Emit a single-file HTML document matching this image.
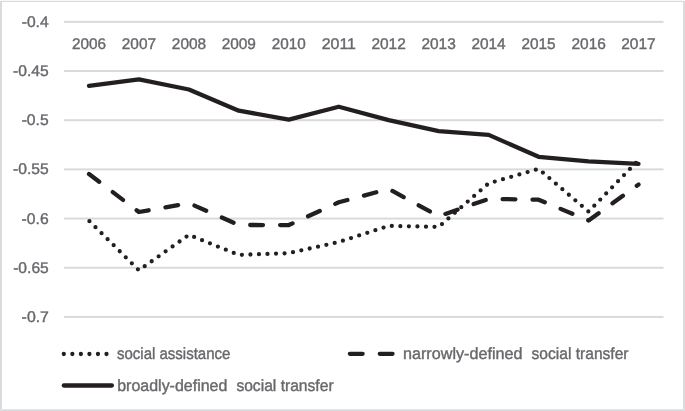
<!DOCTYPE html>
<html><head><meta charset="utf-8"><title>chart</title>
<style>
html,body{margin:0;padding:0;background:#fff;}
body{width:685px;height:411px;overflow:hidden;}
svg{display:block;}
text{font-family:"Liberation Sans",Arial,sans-serif;text-rendering:geometricPrecision;fill:#67686c;stroke:#67686c;stroke-width:0.4px;}
</style></head><body>
<svg width="685" height="411" viewBox="0 0 685 411">
<rect x="0" y="0" width="685" height="411" fill="#fff"/>
<rect x="0" y="0" width="685" height="1" fill="#f7f7f7"/>
<rect x="0" y="1" width="685" height="1" fill="#dadbdd"/>
<rect x="0" y="1" width="2" height="410" fill="#dadbdd"/>
<rect x="683" y="1" width="2" height="410" fill="#dadbdd"/>
<rect x="0" y="409" width="685" height="1" fill="#e3e4e6"/>
<rect x="0" y="410" width="685" height="1" fill="#dadbdd"/>
<rect x="64" y="20.85" width="599.5" height="2" fill="#d9dadc"/>
<rect x="64" y="70.03" width="599.5" height="2" fill="#d9dadc"/>
<rect x="64" y="119.21" width="599.5" height="2" fill="#d9dadc"/>
<rect x="64" y="168.39" width="599.5" height="2" fill="#d9dadc"/>
<rect x="64" y="217.57" width="599.5" height="2" fill="#d9dadc"/>
<rect x="64" y="266.75" width="599.5" height="2" fill="#d9dadc"/>
<rect x="64" y="315.93" width="599.5" height="2" fill="#d9dadc"/>
<text x="21.72" y="27.00" font-size="15.4" textLength="26.91" lengthAdjust="spacingAndGlyphs">-0.4</text>
<text x="13.10" y="76.00" font-size="15.4" textLength="35.64" lengthAdjust="spacingAndGlyphs">-0.45</text>
<text x="21.65" y="125.00" font-size="15.4" textLength="26.99" lengthAdjust="spacingAndGlyphs">-0.5</text>
<text x="13.09" y="174.00" font-size="15.4" textLength="35.65" lengthAdjust="spacingAndGlyphs">-0.55</text>
<text x="21.64" y="224.00" font-size="15.4" textLength="27.06" lengthAdjust="spacingAndGlyphs">-0.6</text>
<text x="13.18" y="273.00" font-size="15.4" textLength="35.57" lengthAdjust="spacingAndGlyphs">-0.65</text>
<text x="21.61" y="322.00" font-size="15.4" textLength="27.34" lengthAdjust="spacingAndGlyphs">-0.7</text>
<text x="72.00" y="49.00" font-size="15.5" textLength="34.08" lengthAdjust="spacingAndGlyphs">2006</text>
<text x="121.81" y="49.00" font-size="15.5" textLength="34.26" lengthAdjust="spacingAndGlyphs">2007</text>
<text x="171.84" y="49.00" font-size="15.5" textLength="34.31" lengthAdjust="spacingAndGlyphs">2008</text>
<text x="221.68" y="49.00" font-size="15.5" textLength="34.24" lengthAdjust="spacingAndGlyphs">2009</text>
<text x="271.69" y="49.00" font-size="15.5" textLength="33.96" lengthAdjust="spacingAndGlyphs">2010</text>
<text x="321.70" y="49.00" font-size="15.5" textLength="34.25" lengthAdjust="spacingAndGlyphs">2011</text>
<text x="371.41" y="49.00" font-size="15.5" textLength="34.34" lengthAdjust="spacingAndGlyphs">2012</text>
<text x="421.41" y="49.00" font-size="15.5" textLength="34.34" lengthAdjust="spacingAndGlyphs">2013</text>
<text x="471.45" y="49.00" font-size="15.5" textLength="34.24" lengthAdjust="spacingAndGlyphs">2014</text>
<text x="521.53" y="49.00" font-size="15.5" textLength="34.03" lengthAdjust="spacingAndGlyphs">2015</text>
<text x="571.54" y="49.00" font-size="15.5" textLength="34.37" lengthAdjust="spacingAndGlyphs">2016</text>
<text x="621.23" y="49.00" font-size="15.5" textLength="34.43" lengthAdjust="spacingAndGlyphs">2017</text>
<text x="116.94" y="359.00" font-size="16.2" textLength="113.50" lengthAdjust="spacingAndGlyphs">social assistance</text>
<text x="403.04" y="359.00" font-size="16.2" textLength="119.38" lengthAdjust="spacingAndGlyphs">narrowly-defined</text>
<text x="531.57" y="359.00" font-size="16.2" textLength="96.94" lengthAdjust="spacingAndGlyphs">social transfer</text>
<text x="117.22" y="391.00" font-size="16.2" textLength="110.13" lengthAdjust="spacingAndGlyphs">broadly-defined</text>
<text x="236.39" y="391.00" font-size="16.2" textLength="97.22" lengthAdjust="spacingAndGlyphs">social transfer</text>
<polyline points="89.00,220.73 138.90,270.30 188.90,234.87 238.80,254.92 288.80,253.12 338.80,242.06 388.70,225.90 438.70,226.89 488.70,183.28 538.60,168.91 588.60,211.61 638.50,160.09" fill="none" stroke="#231f20" stroke-width="4.27" stroke-linecap="round" stroke-linejoin="round" stroke-dasharray="0 8.540" stroke-dashoffset="7.940"/>
<polyline points="89.00,174.03 138.90,212.00 188.90,203.15 238.80,224.98 288.80,225.05 338.80,202.28 388.70,188.95 438.70,216.22 488.70,198.87 538.60,199.71 588.60,220.49 638.50,184.61" fill="none" stroke="#231f20" stroke-width="4.27" stroke-linecap="round" stroke-linejoin="round" stroke-dasharray="12.810 17.080"/>
<polyline points="89.00,85.80 138.90,79.30 188.90,89.50 238.80,110.70 288.80,119.60 338.80,106.70 388.70,120.10 438.70,131.10 488.70,134.90 538.60,156.80 588.60,161.40 638.50,163.80" fill="none" stroke="#231f20" stroke-width="4.27" stroke-linecap="round" stroke-linejoin="round"/>
<path d="M63.8 354 H111.9" stroke="#231f20" stroke-width="4.27" stroke-linecap="round" stroke-dasharray="0 8.540"/>
<path d="M349.85 353.8 H398.0" stroke="#231f20" stroke-width="4.27" stroke-linecap="round" stroke-dasharray="12.810 17.080"/>
<path d="M63.8 385.5 H111.9" stroke="#231f20" stroke-width="4.27" stroke-linecap="round"/>
</svg>
</body></html>
